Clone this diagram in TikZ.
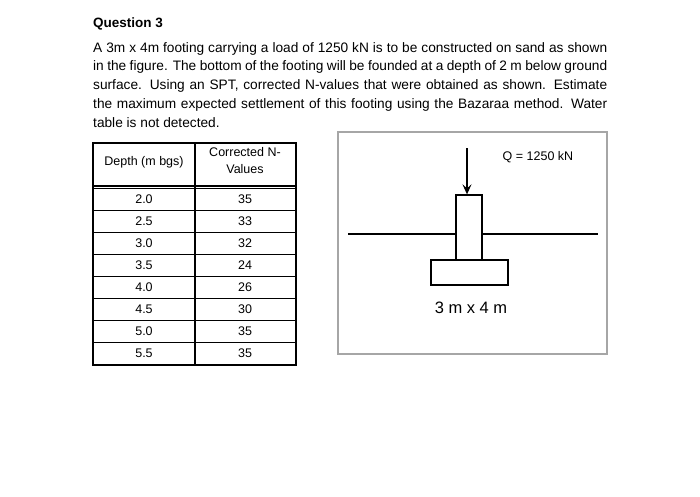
\documentclass[tikz,border=0pt]{standalone}
\usepackage{fontspec}
\setmainfont{Liberation Sans}
\usetikzlibrary{arrows.meta}
\begin{document}
\begin{tikzpicture}[x=1pt,y=-1pt,
  cell/.style={font=\fontsize{12.5}{17}\selectfont,anchor=center},
  ln/.style={line width=1.3pt}]
\useasboundingbox[fill=white] (0,0) rectangle (700,496);
\node[anchor=base west,inner sep=0pt,font=\fontsize{13.5}{16}\selectfont\bfseries] (q) at (93,27) {Question 3};
\node[anchor=north west,inner sep=0pt,text width=514pt,align=justify,font=\fontsize{13.7}{18.8}\selectfont] (p) at (93,42)
{A 3m x 4m footing carrying a load of 1250 kN is to be constructed on sand as shown in the figure. The bottom of the footing will be founded at a depth of 2 m below ground surface. Using an SPT, corrected N-values that were obtained as shown. Estimate the maximum expected settlement of this footing using the Bazaraa method. Water table is not detected.};
% table
\draw[ln] (93,143) rectangle (296,365);
\draw[ln] (195,143) -- (195,365);
\draw[ln] (93,186) -- (296,186);
\draw[ln] (93,188.5) -- (296,188.5);
\foreach \i in {1,...,7}{\draw[ln] (93,188.5+22*\i) -- (296,188.5+22*\i);}
\node[cell] (h1) at (144,162) {Depth (m bgs)};
\node[cell,align=center] (h2) at (245,161) {Corrected N-\\Values};
\foreach \d/\n [count=\i from 0] in {2.0/35,2.5/33,3.0/32,3.5/24,4.0/26,4.5/30,5.0/35,5.5/35}{
  \node[cell] (d\i) at (144,199.5+22*\i) {\d};
  \node[cell] (n\i) at (245,199.5+22*\i) {\n};
}
% figure
\draw[gray!70,line width=1.1pt] (338,132) rectangle (607,354);
\draw[line width=1.3pt] (348,234) -- (456,234) (482,234) -- (598,234);
\node[draw,line width=1.3pt,minimum width=26pt,minimum height=65pt,inner sep=0pt] (col) at (469,227.5) {};
\node[draw,line width=1.3pt,minimum width=77pt,minimum height=25pt,inner sep=0pt] (ft) at (469.5,272.5) {};
\coordinate (top) at (467,148);
\draw[line width=1.6pt,-{Stealth[length=10pt,width=9pt,inset=4pt]}] (top) -- (col.north -| top);
\node[font=\fontsize{12.5}{14}\selectfont] (Q) at (538,157) {Q = 1250 kN};
\node[font=\fontsize{16.5}{18}\selectfont] (lab) at (471,308) {3 m x 4 m};
\end{tikzpicture}
\end{document}
